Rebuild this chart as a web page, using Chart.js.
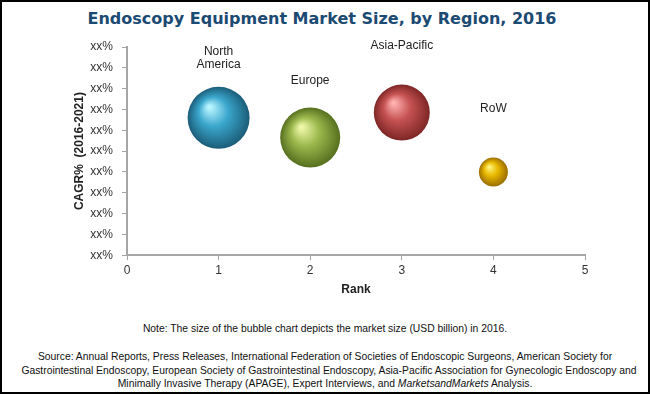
<!DOCTYPE html>
<html>
<head>
<meta charset="utf-8">
<script src="https://cdn.jsdelivr.net/npm/chart.js@4"></script>
<style>
	body { margin: 0; background: #fff; }
	.frame {
		position: relative;
		width: 650px;
		height: 394px;
		box-sizing: border-box;
		border: 2px solid #000;
		overflow: hidden;
		font-family: "Liberation Sans", Arial, sans-serif;
	}
	.title {
		position: absolute;
		left: 0;
		right: 6px;
		top: 7px;
		text-align: center;
		font: bold 16px "DejaVu Sans", Verdana, sans-serif;
		color: #1b4a73;
	}
	canvas { position: absolute; left: -2px; top: -2px; }
	.note, .source {
		position: absolute;
		left: 0;
		right: 0;
		text-align: center;
		white-space: nowrap;
		font-family: "Liberation Sans", Arial, sans-serif;
		font-size: 11px;
		color: #111;
		transform: scaleX(0.94);
		transform-origin: 50% 0;
	}
	.note { top: 320px; }
	.source { top: 348px; line-height: 13.5px; }
</style>
</head>
<body>
<div class="frame">
	<div class="title">Endoscopy Equipment Market Size, by Region, 2016</div>
	<canvas id="chart" width="650" height="297"></canvas>
	<div class="note">Note: The size of the bubble chart depicts the market size (USD billion) in 2016.</div>
	<div class="source">Source: Annual Reports, Press Releases, International Federation of Societies of Endoscopic Surgeons, American Society for<br>Gastrointestinal Endoscopy, European Society of Gastrointestinal Endoscopy, Asia-Pacific Association for Gynecologic Endoscopy and<br>Minimally Invasive Therapy (APAGE), Expert Interviews, and <i>MarketsandMarkets</i> Analysis.</div>
</div>
<script>
	// Bubble data (y in tick steps, size in px radius)
	const regions = ["North America", "Europe", "Asia-Pacific", "RoW"];
	const labelLines = [["North", "America"], ["Europe"], ["Asia-Pacific"], ["RoW"]];
	const rank = [1, 2, 3, 4];
	const cagr = [6.6, 5.65, 6.85, 4.0];
	const bubbleSize = [31, 30, 28, 14.5];
	const labelY = [9.45, 8.37, 10.05, 7.03];
	const yTickLabel = "xx%";

	// light, mid, dark shades per sphere
	const sphereColors = [
		["#b8f4ff", "#3aa6cc", "#1b5d78"],
		["#eef7a8", "#9bb84c", "#566f1f"],
		["#ffb0b0", "#c65252", "#7e2626"],
		["#fff27a", "#e8b800", "#9a6d00"],
	];

	function sphereFill(context) {
		const chart = context.chart;
		const i = context.dataIndex;
		if (i === undefined || !chart.scales.x) return sphereColors[0][1];
		const cx = chart.scales.x.getPixelForValue(rank[i]);
		const cy = chart.scales.y.getPixelForValue(cagr[i]);
		const c = sphereColors[i];
		// scales are not laid out yet on the first pass
		if (!isFinite(cx) || !isFinite(cy)) return c[1];
		const r = bubbleSize[i];
		const g = chart.ctx.createRadialGradient(
			cx - r * 0.3, cy - r * 0.35, r * 0.05,
			cx, cy, r
		);
		g.addColorStop(0, c[0]);
		g.addColorStop(0.45, c[1]);
		g.addColorStop(1, c[2]);
		return g;
	}

	const bubbleLabels = {
		id: "bubbleLabels",
		afterDatasetsDraw(chart) {
			const ctx = chart.ctx;
			ctx.save();
			ctx.font = "12px 'Liberation Sans', Arial, sans-serif";
			ctx.fillStyle = "#222";
			ctx.textAlign = "center";
			ctx.textBaseline = "middle";
			labelLines.forEach((lines, i) => {
				const x = chart.scales.x.getPixelForValue(rank[i]);
				const y = chart.scales.y.getPixelForValue(labelY[i]);
				const top = y - (lines.length - 1) * 6.5;
				lines.forEach((line, j) => {
					ctx.fillText(line, x, top + j * 13);
				});
			});
			ctx.restore();
		},
	};

	const points = rank.map((x, i) => ({ x: x, y: cagr[i], r: bubbleSize[i] }));

	const chart = new Chart(document.getElementById("chart"), {
		type: "bubble",
		data: {
			datasets: [
				{
					label: "Regions",
					data: points,
					backgroundColor: sphereFill,
					borderWidth: 0,
				},
			],
		},
		options: {
			responsive: false,
			animation: false,
			layout: {
				padding: { left: 72, right: 65, top: 47, bottom: 0 },
			},
			plugins: {
				legend: { display: false },
				tooltip: { enabled: false },
			},
			scales: {
				x: {
					min: 0,
					max: 5,
					ticks: {
						stepSize: 1,
						padding: 3,
						color: "#333",
						font: { size: 12, family: "'Liberation Sans', Arial, sans-serif" },
					},
					grid: {
						display: true,
						drawOnChartArea: false,
						tickLength: 5,
						color: "#a6a6a6",
					},
					border: { color: "#a6a6a6", width: 2 },
					title: {
						display: true,
						text: "Rank",
						color: "#222",
						padding: { top: 2, bottom: 0 },
						font: { size: 12, weight: "bold", family: "'Liberation Sans', Arial, sans-serif" },
					},
				},
				y: {
					min: 0,
					max: 10,
					afterFit(scale) {
						scale.width = 55;
					},
					ticks: {
						stepSize: 1,
						padding: 9,
						color: "#333",
						font: { size: 12, family: "'Liberation Sans', Arial, sans-serif" },
						callback: () => yTickLabel,
					},
					grid: {
						display: true,
						drawOnChartArea: false,
						tickLength: 5,
						color: "#a6a6a6",
					},
					border: { color: "#a6a6a6", width: 2 },
					title: {
						display: true,
						text: "CAGR%  (2016-2021)",
						color: "#222",
						padding: { top: 0, bottom: 4 },
						font: { size: 12, weight: "bold", family: "'Liberation Sans', Arial, sans-serif" },
					},
				},
			},
		},
		plugins: [bubbleLabels],
	});
	chart.update();
</script>
</body>
</html>
